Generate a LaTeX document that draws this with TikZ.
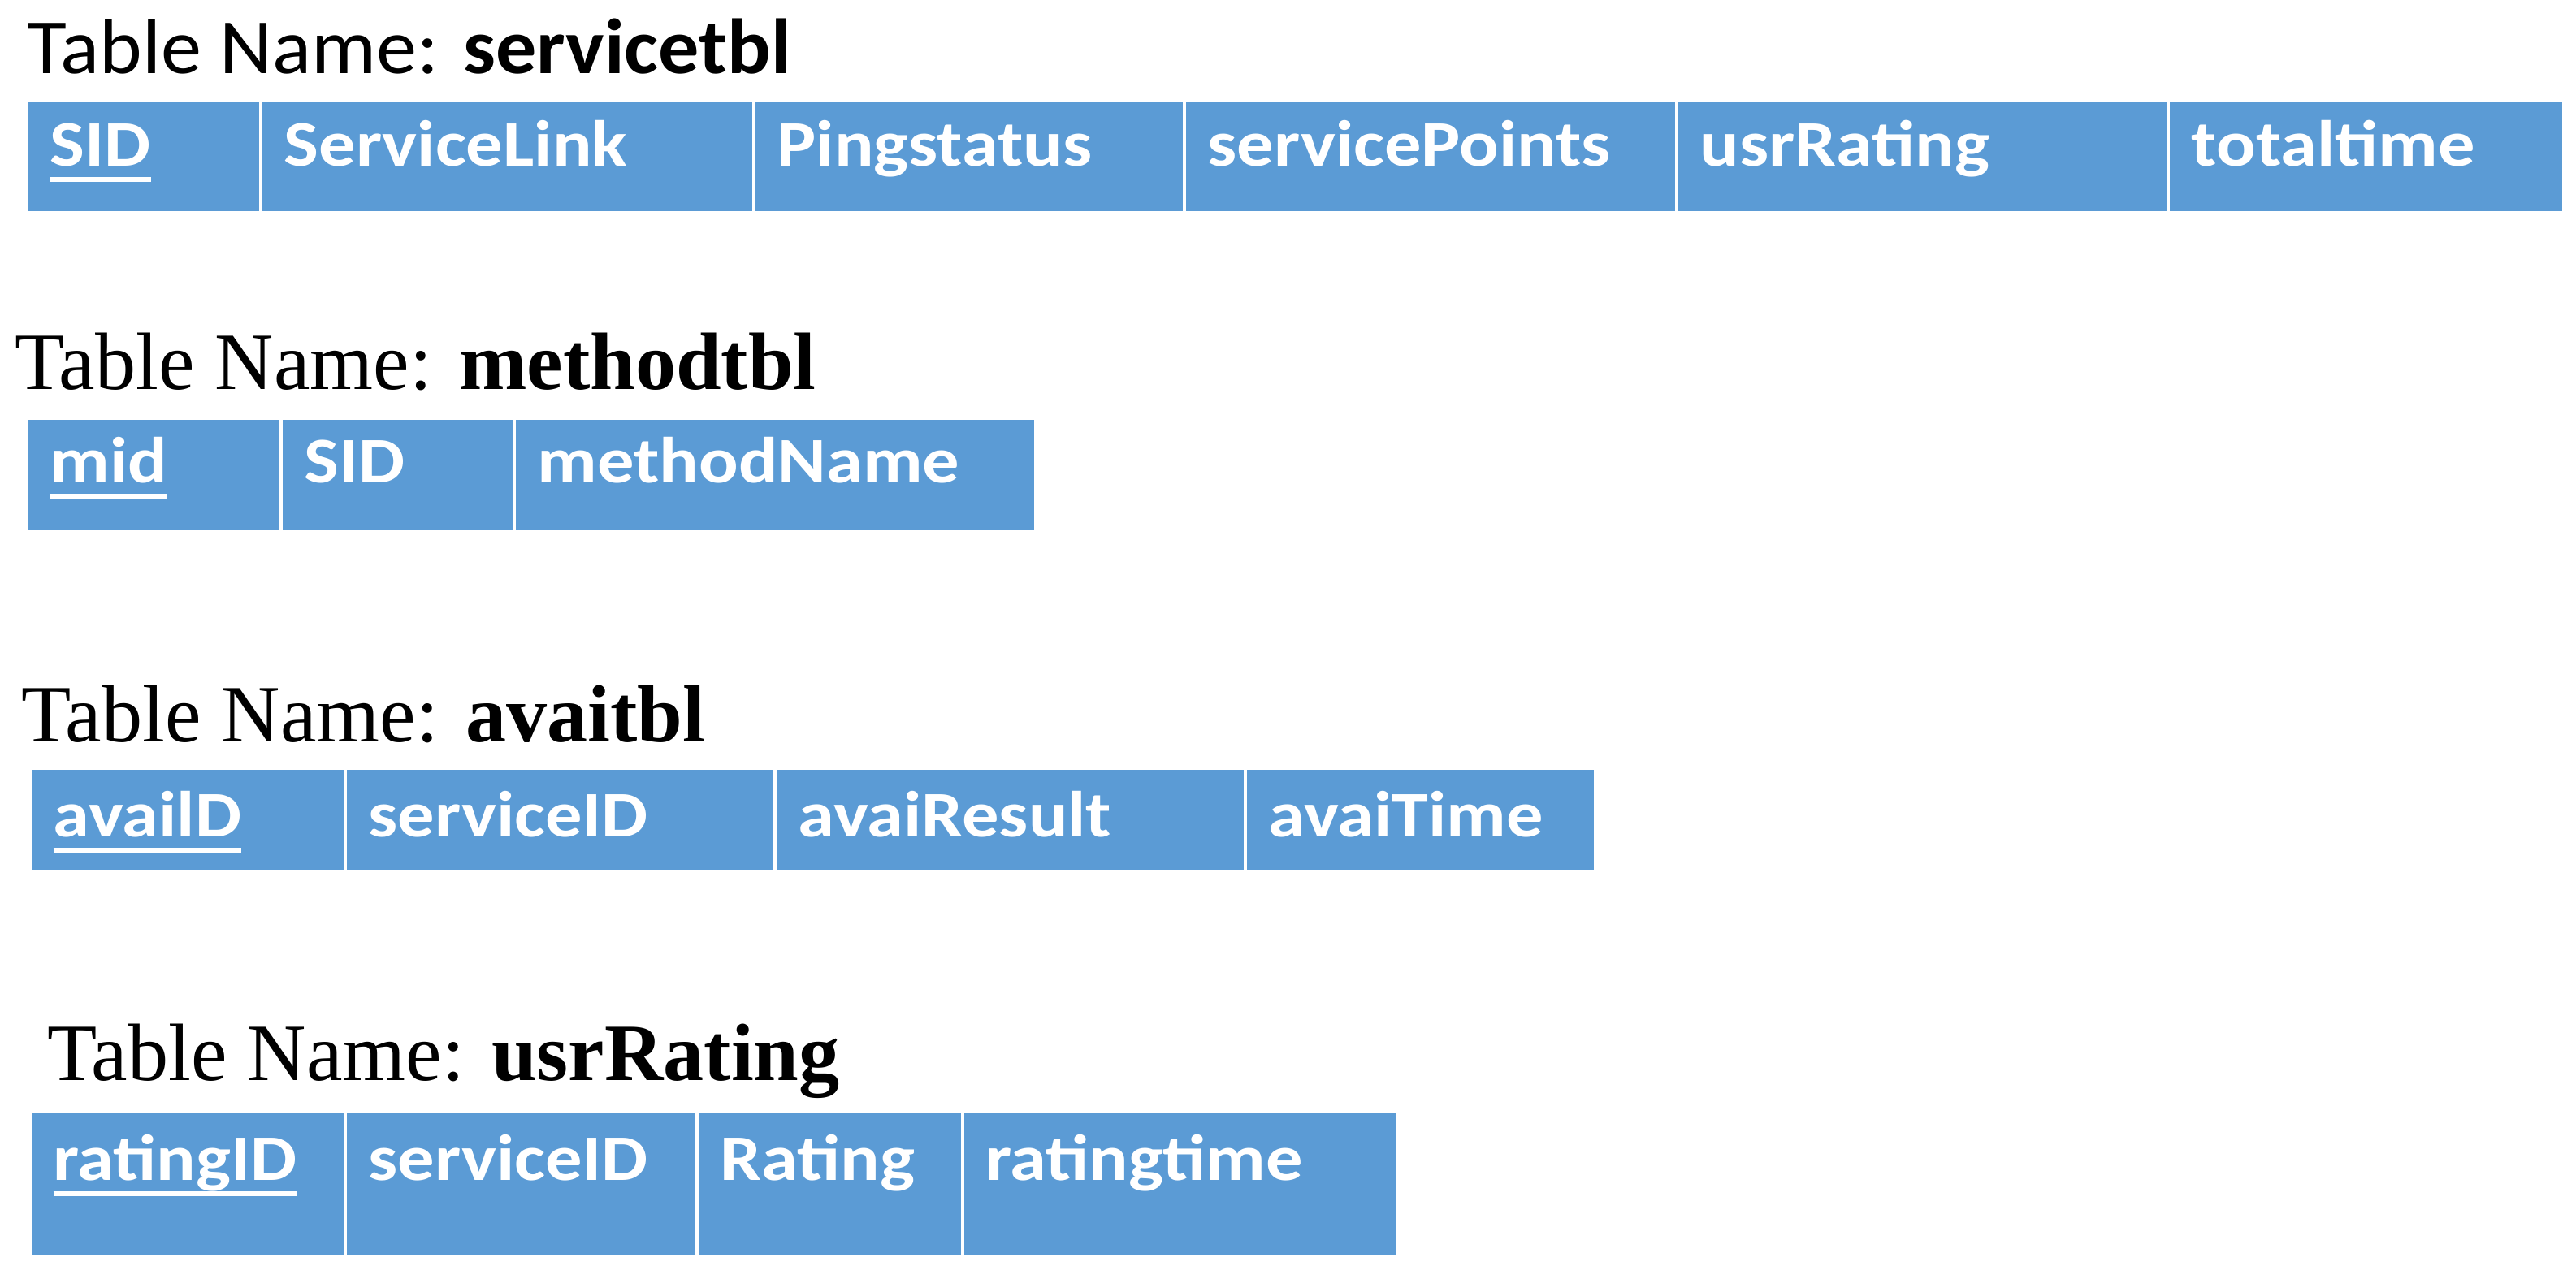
\documentclass[tikz,border=0pt]{standalone}
\usepackage{fontspec}
\setmainfont{Liberation Serif}
\newfontfamily\calibri{Carlito}[FakeStretch=1.13]
\newfontfamily\calibrihead{Carlito}[FakeStretch=1.04]
\usepackage{tikz}
\usetikzlibrary{positioning}
\definecolor{fieldblue}{HTML}{5B9BD5}
\newcommand{\fieldcolor}{fieldblue}
\newcommand{\keyname}[1]{\setbox0\hbox{#1}\rlap{\rule[-0.19cm]{\wd0}{0.06cm}}\box0}
\tikzset{
  field/.style={fill=\fieldcolor, text=white, anchor=north west, align=left,
    inner xsep=0.27cm, inner ysep=0pt,
    font={\calibri\bfseries\fontsize{22.8pt}{26pt}\selectfont}},
  tblname/.style={anchor=base west, inner sep=0pt, font=\fontsize{28.5pt}{33pt}\selectfont},
}

\begin{document}
\begin{tikzpicture}
\useasboundingbox (0,0) rectangle (31.71,-15.58);
%servicetbl
\node[tblname, font=\calibrihead\fontsize{27.4pt}{31pt}\selectfont] (ts) at (0.33,-0.90) {Table Name: \textbf{servicetbl}};
\node[field, text width=2.30cm, text height=0.79cm, text depth=0.55cm] (s1) at (0.34,-1.25) {\keyname{SID}};
\node[field, text width=5.49cm, text height=0.79cm, text depth=0.55cm] (s2) at (3.22,-1.25) {ServiceLink};
\node[field, text width=4.72cm, text height=0.79cm, text depth=0.55cm] (s3) at (9.29,-1.25) {Pingstatus};
\node[field, text width=5.48cm, text height=0.79cm, text depth=0.55cm] (s4) at (14.59,-1.25) {servicePoints};
\node[field, text width=5.47cm, text height=0.79cm, text depth=0.55cm] (s5) at (20.65,-1.25) {usrRating};
\node[field, text width=4.29cm, text height=0.79cm, text depth=0.55cm] (s6) at (26.70,-1.25) {totaltime};
%methodtbl
\node[tblname] (tm) at (0.18,-4.79) {Table Name: \textbf{methodtbl}};
\node[field, text width=2.55cm, text height=0.78cm, text depth=0.58cm] (m1) at (0.34,-5.16) {\keyname{mid}};
\node[field, text width=2.29cm, text height=0.78cm, text depth=0.58cm] (m2) at (3.47,-5.16) {SID};
\node[field, text width=5.84cm, text height=0.78cm, text depth=0.58cm] (m3) at (6.34,-5.16) {methodName};
%avaitbl
\node[tblname] (ta) at (0.26,-9.13) {Table Name: \textbf{avaitbl}};
\node[field, text width=3.30cm, text height=0.83cm, text depth=0.40cm] (a1) at (0.38,-9.47) {\keyname{availD}};
\node[field, text width=4.71cm, text height=0.83cm, text depth=0.40cm] (a2) at (4.26,-9.47) {serviceID};
\node[field, text width=5.21cm, text height=0.83cm, text depth=0.40cm] (a3) at (9.55,-9.47) {avaiResult};
\node[field, text width=3.73cm, text height=0.83cm, text depth=0.40cm] (a4) at (15.34,-9.47) {avaiTime};
%usrRating
\node[tblname] (tr) at (0.58,-13.30) {Table Name: \textbf{usrRating}};
\node[field, text width=3.30cm, text height=0.83cm, text depth=0.91cm] (r1) at (0.38,-13.70) {\keyname{ratingID}};
\node[field, text width=3.75cm, text height=0.83cm, text depth=0.91cm] (r2) at (4.26,-13.70) {serviceID};
\node[field, text width=2.69cm, text height=0.83cm, text depth=0.91cm] (r3) at (8.59,-13.70) {Rating};
\node[field, text width=4.77cm, text height=0.83cm, text depth=0.91cm] (r4) at (11.86,-13.70) {ratingtime};
\end{tikzpicture}
\end{document}
